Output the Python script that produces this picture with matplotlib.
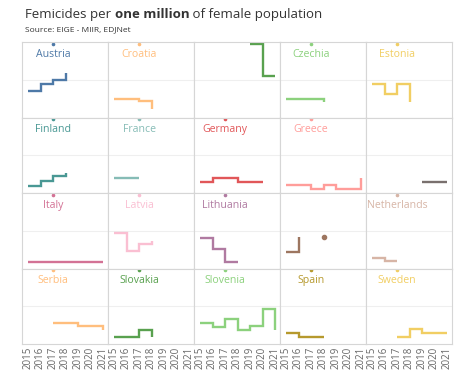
import numpy as np
import matplotlib.pyplot as plt

plt.rcParams['font.family'] = ['Open Sans', 'DejaVu Sans']

nan = np.nan
years = [2015, 2016, 2017, 2018, 2019, 2020, 2021]

# values per country, one per year (nan = no data)
austria = [7.0, 9.0, 9.9, 11.8, nan, nan, nan]
croatia = [5.0, 5.0, 4.3, 2.3, nan, nan, nan]
cyprus = [nan, nan, nan, nan, 19.5, 10.9, 10.9]
czechia = [5.0, 5.0, 5.0, 4.1, nan, nan, nan]
estonia = [9.0, 6.3, 9.0, 4.1, nan, nan, nan]
finland = [1.9, 3.2, 4.5, 5.4, nan, nan, nan]
france = [3.9, 3.9, 3.9, nan, nan, nan, nan]
germany = [2.9, 3.9, 3.9, 2.9, 2.9, 2.9, nan]
greece = [2.05, 2.05, 1.15, 2.05, 1.15, 1.15, 4.1]
hungary = [nan, nan, nan, nan, 3.0, 3.0, 3.0]
italy = [1.85, 1.85, 1.85, 1.85, 1.85, 1.85, 1.85]
latvia = [9.4, 4.7, 6.5, 7.4, nan, nan, nan]
lithuania = [8.2, 5.2, 1.85, 1.85, nan, nan, nan]
malta = [4.5, 8.3, nan, 8.4, nan, nan, nan]
netherlands = [2.7, 2.1, 2.1, nan, nan, nan, nan]
serbia = [nan, nan, 5.45, 5.45, 4.75, 4.75, 3.7]
slovakia = [1.75, 1.75, 3.7, 1.75, nan, nan, nan]
slovenia = [5.45, 4.55, 6.6, 3.7, 4.75, 9.4, 3.7]
spain = [2.8, 1.9, 1.9, 1.9, nan, nan, nan]
sweden = [nan, nan, 1.9, 3.85, 2.8, 2.8, 2.8]

countries = ["Austria", "Croatia", "Cyprus", "Czechia", "Estonia",
             "Finland", "France", "Germany", "Greece", "Hungary",
             "Italy", "Latvia", "Lithuania", "Malta", "Netherlands",
             "Serbia", "Slovakia", "Slovenia", "Spain", "Sweden"]
series = [austria, croatia, cyprus, czechia, estonia,
          finland, france, germany, greece, hungary,
          italy, latvia, lithuania, malta, netherlands,
          serbia, slovakia, slovenia, spain, sweden]
colors = ["#4E79A7", "#FFBE7D", "#59A14F", "#8CD17D", "#F1CE63",
          "#499894", "#86BCB6", "#E15759", "#FF9D9A", "#79706E",
          "#D37295", "#FABFD2", "#B07AA1", "#9D7660", "#D7B5A6",
          "#FFBE7D", "#59A14F", "#8CD17D", "#B6992D", "#F1CE63"]
# the original hides these labels
hidden_labels = ["Cyprus", "Hungary", "Malta"]


def step_xy(xs, ys):
    # step-after line, drawn only between consecutive years that have data
    px, py = [], []
    for i in range(len(xs) - 1):
        if np.isnan(ys[i]) or np.isnan(ys[i+1]):
            px.append(nan)
            py.append(nan)
            continue
        px += [xs[i], xs[i+1], xs[i+1]]
        py += [ys[i], ys[i], ys[i+1]]
    return px, py


fig, axes = plt.subplots(4, 5, figsize=(4.74, 3.72), dpi=100,
                         sharex=True, sharey=True)
fig.subplots_adjust(left=22/474, right=452/474, top=1-42/372,
                    bottom=1-344/372, wspace=0, hspace=0)

for ax, name, vals, col in zip(axes.flat, countries, series, colors):
    y = np.array(vals, dtype=float)
    px, py = step_xy(years, y)
    ax.plot(px, py, color=col, lw=1.7,
            solid_joinstyle='miter', solid_capstyle='butt')
    # isolated points get a dot
    for i, v in enumerate(y):
        left_nan = i == 0 or np.isnan(y[i-1])
        right_nan = i == len(y)-1 or np.isnan(y[i+1])
        if not np.isnan(v) and left_nan and right_nan:
            ax.plot(years[i], v, 'o', color=col, ms=3)
    if name not in hidden_labels:
        ax.plot(2017, 19.5, 'o', color=col, ms=1.6)
        ax.text(2017, 16.8, name, color=col, fontsize=7.6,
                ha='center', va='center')
    ax.set_xlim(2014.52, 2021.4)
    ax.set_ylim(0, 20)
    ax.set_yticks([10])
    ax.yaxis.grid(True, color='#efefef', lw=0.8)
    ax.set_axisbelow(True)
    ax.tick_params(axis='y', length=0, labelleft=False)
    ax.tick_params(axis='x', length=0, labelsize=7, labelcolor='#666666',
                   labelrotation=90, pad=2)
    for s in ax.spines.values():
        s.set_color('#d6d6d6')
        s.set_linewidth(0.8)

axes[0, 0].set_xticks(years)
axes[0, 0].set_xticklabels([str(y) for y in years])

t1 = fig.text(25/474, 1-18/372, "Femicides per ", fontsize=9.5,
              color='#333333', va='baseline', ha='left')
t2 = fig.text(0, 0, "one million", fontsize=9.5, color='#333333',
              fontweight='bold', va='baseline', ha='left')
t3 = fig.text(0, 0, " of female population", fontsize=9.5,
              color='#333333', va='baseline', ha='left')
fig.canvas.draw()
r = fig.canvas.get_renderer()
x = t1.get_window_extent(r).x1 / fig.bbox.width
t2.set_position((x, 1-18/372))
fig.canvas.draw()
x = t2.get_window_extent(r).x1 / fig.bbox.width
t3.set_position((x, 1-18/372))
fig.text(25/474, 1-31/372, "Source: EIGE - MIIR, EDJNet", fontsize=6,
         color='#333333', va='baseline', ha='left')

fig.savefig("out.png", dpi=100)
